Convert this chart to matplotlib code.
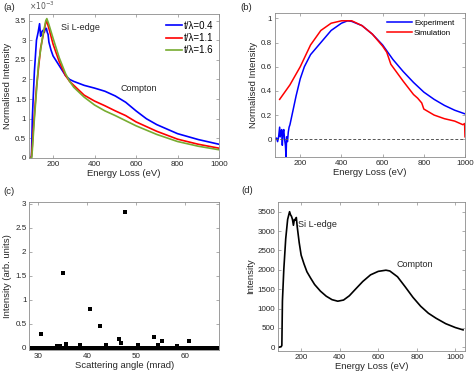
import matplotlib
matplotlib.use("Agg")
import matplotlib.pyplot as plt
from matplotlib.ticker import FuncFormatter

plt.rcParams['font.family'] = ['Liberation Sans', 'DejaVu Sans']

# ---------------- Panel (a) data (x1e-3) ----------------
a_blue_x = [84, 92, 96, 100, 104, 110, 120, 128, 135, 140, 145, 150, 158, 163, 168, 172, 176, 180, 190, 200, 230, 260, 280, 300, 350, 400, 450, 500, 550, 600, 650, 700, 800, 900, 1000]
a_blue_y = [0, 0, 0.05, 1.0, 1.5, 2.2, 3.0, 3.2, 3.42, 3.1, 3.2, 3.25, 3.2, 3.3, 3.3, 3.2, 3.15, 2.95, 2.75, 2.6, 2.35, 2.1, 2.0, 1.95, 1.85, 1.78, 1.7, 1.58, 1.42, 1.2, 1.0, 0.85, 0.62, 0.47, 0.35]
a_red_x = [84, 95, 100, 105, 120, 140, 155, 165, 170, 180, 200, 230, 260, 280, 300, 350, 400, 450, 500, 550, 600, 700, 800, 900, 1000]
a_red_y = [0, 0, 0.3, 0.75, 1.8, 2.8, 3.2, 3.45, 3.48, 3.3, 2.9, 2.45, 2.1, 1.95, 1.85, 1.6, 1.45, 1.33, 1.2, 1.08, 0.92, 0.68, 0.48, 0.35, 0.25]
a_green_x = [84, 97, 100, 110, 130, 150, 165, 170, 180, 200, 230, 260, 280, 300, 350, 400, 450, 500, 550, 600, 700, 800, 900, 1000]
a_green_y = [0, 0, 0.2, 1.0, 2.4, 3.1, 3.5, 3.55, 3.4, 3.05, 2.55, 2.15, 1.95, 1.8, 1.55, 1.35, 1.2, 1.08, 0.95, 0.82, 0.6, 0.42, 0.3, 0.21]
a_labels = ['t/\u03bb=0.4', 't/\u03bb=1.1', 't/\u03bb=1.6']

# ---------------- Panel (b) data ----------------
b_exp_x = [78, 85, 90, 95, 100, 103, 106, 110, 113, 116, 120, 124, 128, 131, 134, 138, 142, 146, 150, 160, 180, 200, 220, 250, 300, 350, 400, 430, 450, 500, 550, 600, 625, 650, 700, 750, 800, 850, 900, 950, 1000]
b_exp_y = [0.0, 0.01, -0.02, 0.02, 0.1, 0.02, 0.06, 0.08, -0.05, 0.05, 0.08, 0.0, -0.05, -0.15, 0.02, -0.02, 0.06, 0.1, 0.12, 0.2, 0.36, 0.5, 0.6, 0.7, 0.8, 0.9, 0.96, 0.98, 0.975, 0.94, 0.87, 0.78, 0.72, 0.66, 0.56, 0.47, 0.39, 0.33, 0.28, 0.24, 0.21]
b_sim_x = [100, 150, 200, 250, 300, 350, 400, 450, 500, 550, 600, 620, 640, 700, 750, 770, 790, 800, 850, 900, 950, 990, 998, 1000]
b_sim_y = [0.33, 0.45, 0.6, 0.78, 0.9, 0.96, 0.98, 0.98, 0.94, 0.87, 0.77, 0.72, 0.62, 0.48, 0.37, 0.34, 0.3, 0.25, 0.2, 0.17, 0.15, 0.12, 0.13, 0.02]
b_labels = ['Experiment', 'Simulation']

# ---------------- Panel (c) data ----------------
c_peak_x = [30.6, 35.2, 35.7, 38.6, 40.6, 42.6, 43.9, 46.5, 47.0, 47.8, 50.4, 53.6, 54.5, 55.2, 58.2, 60.7, 34.0, 34.5]
c_peak_y = [0.285, 1.55, 0.08, 0.05, 0.8, 0.46, 0.05, 0.18, 0.09, 2.84, 0.05, 0.23, 0.05, 0.14, 0.04, 0.15, 0.04, 0.04]
c_base_x = [28.8, 29.3, 29.8, 30.3, 30.8, 31.3, 31.8, 32.3, 32.8, 33.3, 33.8, 34.3, 34.8, 35.3, 35.8, 36.3, 36.8, 37.3, 37.8, 38.3,
            38.8, 39.3, 39.8, 40.3, 40.8, 41.3, 41.8, 42.3, 42.8, 43.3, 43.8, 44.3, 44.8, 45.3, 45.8, 46.3, 46.8, 47.3, 47.8, 48.3,
            48.8, 49.3, 49.8, 50.3, 50.8, 51.3, 51.8, 52.3, 52.8, 53.3, 53.8, 54.3, 54.8, 55.3, 55.8, 56.3, 56.8, 57.3, 57.8, 58.3,
            58.8, 59.3, 59.8, 60.3, 60.8, 61.3, 61.8, 62.3, 62.8, 63.3, 63.8, 64.3, 64.8, 65.3, 65.8, 66.3]
c_base_y = [0.0] * len(c_base_x)

# ---------------- Panel (d) data ----------------
d_x = [82, 90, 97, 100, 103, 110, 120, 130, 140, 145, 150, 155, 160, 165, 170, 175, 180, 190, 200, 215, 230, 250, 270, 300, 330, 360, 390, 420, 450, 480, 520, 560, 600, 640, 660, 700, 740, 780, 820, 860, 900, 950, 1000, 1040]
d_y = [0, 10, 20, 50, 1200, 2000, 2800, 3300, 3500, 3420, 3380, 3300, 3150, 3300, 3280, 3350, 3100, 2700, 2380, 2150, 1950, 1780, 1620, 1450, 1320, 1230, 1190, 1220, 1330, 1490, 1700, 1870, 1960, 1990, 1970, 1820, 1560, 1290, 1060, 880, 750, 610, 510, 450]

BLUE = '#0000FF'
RED = '#FF0000'
GREEN = '#77AC30'
TXT = '#262626'
SPINE = '#8c8c8c'

fig = plt.figure(figsize=(4.74, 3.77), dpi=100)
W, H = 474.0, 377.0


def ax_px(l, t, r, b):
    return fig.add_axes([l / W, (H - b) / H, (r - l) / W, (b - t) / H])


def style(ax):
    for s in ax.spines.values():
        s.set_color(SPINE)
        s.set_linewidth(0.6)
    ax.tick_params(direction='in', length=2.2, width=0.5, color=SPINE, labelsize=5.8,
                   labelcolor=TXT, top=True, right=True, pad=2)


gfmt = FuncFormatter(lambda v, p: f'{v:g}')

# (a)
ax = ax_px(29, 13.5, 219, 158)
sc = 1e-3
ax.plot(a_blue_x, [v * sc for v in a_blue_y], color=BLUE, lw=1.2, label=a_labels[0])
ax.plot(a_red_x, [v * sc for v in a_red_y], color=RED, lw=1.2, label=a_labels[1])
ax.plot(a_green_x, [v * sc for v in a_green_y], color=GREEN, lw=1.2, label=a_labels[2])
ax.set_xlim(84, 1000)
ax.set_ylim(0, 3.68e-3)
ax.set_xticks([200, 400, 600, 800, 1000])
ax.set_yticks([0, 0.5e-3, 1e-3, 1.5e-3, 2e-3, 2.5e-3, 3e-3, 3.5e-3])
ax.yaxis.set_major_formatter(FuncFormatter(lambda v, p: f'{v * 1e3:g}'))
ax.xaxis.set_major_formatter(gfmt)
style(ax)
ax.text(0.0, 1.01, r'$\times10^{-3}$', transform=ax.transAxes, fontsize=5.5, color='#555555', va='bottom', ha='left')
ax.set_xlabel('Energy Loss (eV)', fontsize=6.8, color=TXT, labelpad=1)
ax.set_ylabel('Normalised Intensity', fontsize=6.8, color=TXT, labelpad=2)
ax.text(237, 3.32e-3, 'Si L-edge', fontsize=6.5, color=TXT, va='center', ha='left')
ax.text(526, 1.76e-3, 'Compton', fontsize=6.5, color=TXT, va='center', ha='left')
ax.legend(loc='upper right', bbox_to_anchor=(0.995, 0.985), frameon=False, fontsize=7,
          handlelength=1.7, handletextpad=0.15, labelspacing=0.25, borderaxespad=0.1)
fig.text(3 / W, 1 - 8 / H, '(a)', fontsize=6.8, color=TXT, va='center', ha='left')

# (b)
ax = ax_px(274.5, 12.7, 465, 157)
ax.plot(b_exp_x, b_exp_y, color=BLUE, lw=1.1, label=b_labels[0])
ax.plot(b_sim_x, b_sim_y, color=RED, lw=1.1, label=b_labels[1])
ax.axhline(0, color='#555555', lw=0.7, ls=(0, (3, 2)))
ax.set_xlim(75, 1000)
ax.set_ylim(-0.147, 1.047)
ax.set_xticks([200, 400, 600, 800, 1000])
ax.set_yticks([0, 0.2, 0.4, 0.6, 0.8, 1])
ax.xaxis.set_major_formatter(gfmt)
ax.yaxis.set_major_formatter(gfmt)
style(ax)
ax.set_xlabel('Energy Loss (eV)', fontsize=6.8, color=TXT, labelpad=1)
ax.set_ylabel('Normalised Intensity', fontsize=6.8, color=TXT, labelpad=2)
ax.legend(loc='upper right', bbox_to_anchor=(0.965, 0.985), frameon=False, fontsize=5.8,
          handlelength=3.2, handletextpad=0.2, labelspacing=0.3, borderaxespad=0.1)
fig.text(240 / W, 1 - 8 / H, '(b)', fontsize=6.8, color=TXT, va='center', ha='left')

# (c)
ax = ax_px(29.3, 202, 219, 350)
ax.plot(c_base_x, c_base_y, ls='none', marker='s', ms=2.6, color='black', mew=0)
ax.plot(c_peak_x, c_peak_y, ls='none', marker='s', ms=2.6, color='black', mew=0)
ax.set_xlim(28.3, 66.8)
ax.set_ylim(-0.048, 3.04)
ax.set_xticks([30, 40, 50, 60])
ax.set_yticks([0, 0.5, 1, 1.5, 2, 2.5, 3])
ax.xaxis.set_major_formatter(gfmt)
ax.yaxis.set_major_formatter(gfmt)
style(ax)
ax.set_xlabel('Scattering angle (mrad)', fontsize=6.8, color=TXT, labelpad=1)
ax.set_ylabel('Intensity (arb. units)', fontsize=6.8, color=TXT, labelpad=2)
fig.text(3 / W, 1 - 192 / H, '(c)', fontsize=6.8, color=TXT, va='center', ha='left')

# (d)
ax = ax_px(278, 202, 465, 351)
ax.plot(d_x, d_y, color='black', lw=1.2)
ax.set_xlim(80, 1050)
ax.set_ylim(-95, 3750)
ax.set_xticks([200, 400, 600, 800, 1000])
ax.set_yticks([0, 500, 1000, 1500, 2000, 2500, 3000, 3500])
ax.xaxis.set_major_formatter(gfmt)
ax.yaxis.set_major_formatter(gfmt)
style(ax)
ax.set_xlabel('Energy Loss (eV)', fontsize=6.8, color=TXT, labelpad=1)
ax.set_ylabel('Intensity', fontsize=6.8, color=TXT, labelpad=2)
ax.text(186, 3175, 'Si L-edge', fontsize=6.5, color=TXT, va='center', ha='left')
ax.text(693, 2125, 'Compton', fontsize=6.5, color=TXT, va='center', ha='left')
fig.text(241 / W, 1 - 191 / H, '(d)', fontsize=6.8, color=TXT, va='center', ha='left')

fig.savefig('out.png', dpi=100)
